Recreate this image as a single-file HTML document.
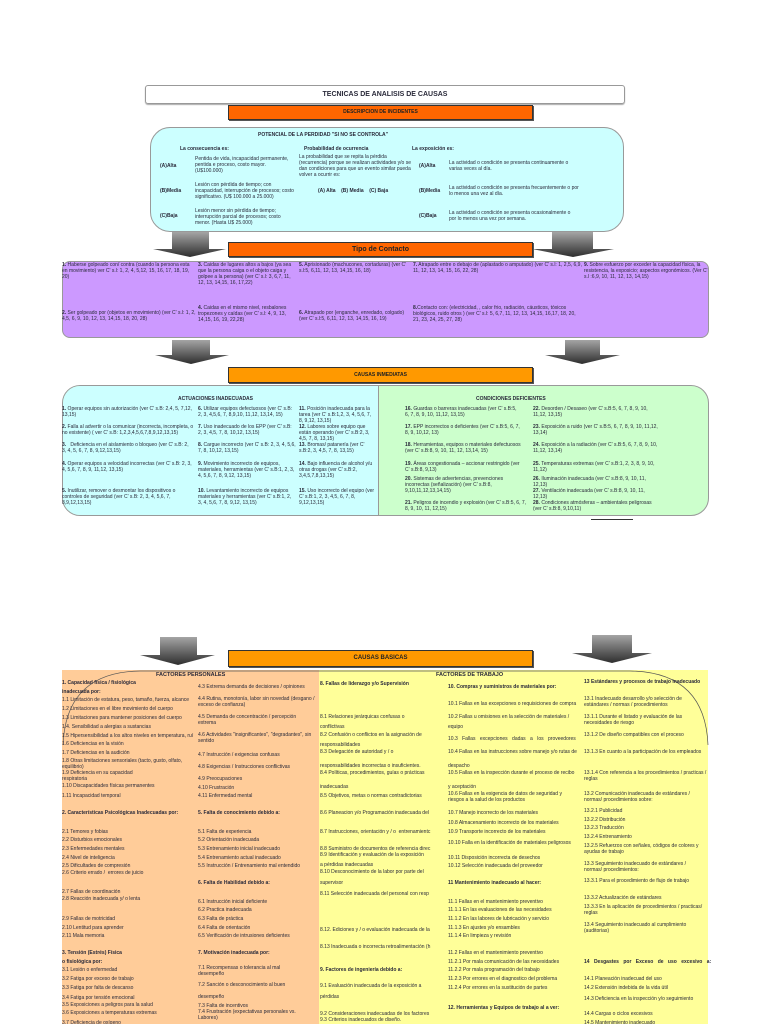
<!DOCTYPE html>
<html><head><meta charset="utf-8"><style>
body{margin:0;background:#fff;}
#p{position:relative;width:768px;height:1024px;overflow:hidden;font-family:"Liberation Sans",sans-serif;color:#2a2a3a;}
#p div{position:absolute;}
.t{font-size:5px;line-height:6px;white-space:nowrap;}
.w{font-size:5px;line-height:6px;}
.b{font-weight:bold;}
.bar{border:1px solid #333;box-shadow:1px 1px 0 #555;text-align:center;font-weight:bold;color:#222;}
.sh{background:linear-gradient(#a0a0a0,#303030);}
</style></head><body><div id="p">

<!-- title -->
<div style="left:145px;top:85px;width:478px;height:17px;border:1px solid #999;border-radius:3px;box-shadow:0 1px 1px #aaa;text-align:center;font-size:7px;line-height:17px;font-weight:bold;">TECNICAS DE ANALISIS DE CAUSAS</div>
<div class="bar" style="left:228px;top:105px;width:303px;height:13px;background:#ff6600;font-size:5px;line-height:13px;">DESCRIPCION DE INCIDENTES</div>

<!-- cyan -->
<div style="left:150px;top:127px;width:472px;height:103px;background:#ccffff;border:1px solid #999;border-radius:20px;"></div>
<div class="t b" style="left:258px;top:132px;">POTENCIAL DE LA PERDIDAD "SI NO SE CONTROLA"</div>
<div class="t b" style="left:180px;top:146px;">La consecuencia es:</div>
<div class="t b" style="left:304px;top:146px;">Probabilidad de ocurrencia</div>
<div class="t b" style="left:412px;top:146px;">La exposición es:</div>
<div class="t b" style="left:160px;top:163px;">(A)Alta</div>
<div class="t b" style="left:160px;top:188px;">(B)Media</div>
<div class="t b" style="left:160px;top:213px;">(C)Baja</div>
<div class="w" style="left:195px;top:156px;width:100px;">Pentida de vida, incapacidad permanente, pentida e proceso, costo mayor. (U$100.000)</div>
<div class="w" style="left:195px;top:182px;width:100px;">Lesión con pérdida de tiempo; con incapacidad, interrupción de procesos; costo significativo. (U$ 100.000 a 25.000)</div>
<div class="w" style="left:195px;top:208px;width:100px;">Lesión menor sin pérdida de tiempo; interrupción parcial de procesos; costo menor. (Hasta U$ 25.000)</div>
<div class="w" style="left:299px;top:154px;width:112px;">La probabilidad que se repita la pérdida (recurrencia) porque se realizan actividades y/o se dan condiciones para que un evento similar pueda volver a ocurrir es:</div>
<div class="t b" style="left:318px;top:188px;">(A) Alta &nbsp;&nbsp; (B) Media &nbsp;&nbsp; (C) Baja</div>
<div class="t b" style="left:419px;top:163px;">(A)Alta</div>
<div class="t b" style="left:419px;top:188px;">(B)Media</div>
<div class="t b" style="left:419px;top:213px;">(C)Baja</div>
<div class="w" style="left:449px;top:160px;width:130px;">La actividad o condición se presenta continuamente o varias veces al día.</div>
<div class="w" style="left:449px;top:185px;width:130px;">La actividad o condición se presenta frecuentemente o por lo menos una vez al día.</div>
<div class="w" style="left:449px;top:210px;width:130px;">La actividad o condición se presenta ocasionalmente o por lo menos una vez por semana.</div>

<!-- arrows 1 -->
<svg style="position:absolute;left:0;top:0" width="768" height="1024">
<defs><linearGradient id="g" x1="0" y1="0" x2="0" y2="1"><stop offset="0" stop-color="#a5a5a5"/><stop offset="1" stop-color="#2e2e2e"/></linearGradient></defs>
<path d="M172,232H209V249H226L190,257L153,249H172Z" fill="url(#g)"/>
<path d="M552,232H593V249H614L573,257L532,249H552Z" fill="url(#g)"/>
<path d="M172,340H210V355H229L191,364L155,355H172Z" fill="url(#g)"/>
<path d="M565,340H600V355H620L582,364L545,355H565Z" fill="url(#g)"/>
<path d="M160,637H197V655H215L178,665L140,655H160Z" fill="url(#g)"/>
<path d="M592,635H632V653H652L612,663L572,653H592Z" fill="url(#g)"/>
</svg>

<div class="bar" style="left:228px;top:242px;width:303px;height:13px;background:#ff6600;font-size:7px;line-height:13px;">Tipo de Contacto</div>

<!-- purple -->
<div style="left:62px;top:261px;width:645px;height:75px;background:#cc99ff;border:1px solid #999;border-radius:8px;"></div>
<div class="w" style="left:62px;top:262px;width:134px;"><b>1.</b> Haberse golpeado con/ contra (cuando la persona esta en movimiento) ver C' s.l: 1, 2, 4, 5,12, 15, 16, 17, 18, 19, 20)</div>
<div class="w" style="left:198px;top:262px;width:98px;"><b>3.</b> Caidas de lugares altos a bajos (ya sea que la persona caiga o el objeto caiga y golpee a la persona) (ver C' s.l: 3, 6,7, 11, 12, 13, 14,15, 16, 17,22)</div>
<div class="w" style="left:299px;top:262px;width:112px;"><b>5.</b> Aprisionado (machucones, cortaduras) (ver C' s.l:5, 6,11, 12, 13, 14,15, 16, 18)</div>
<div class="w" style="left:413px;top:262px;width:170px;"><b>7.</b> Atrapado entre o debajo de (aplastado o amputado) (ver C' s.l: 1, 2,5, 6,9, 11, 12, 13, 14, 15, 16, 22, 28)</div>
<div class="w" style="left:584px;top:262px;width:124px;"><b>9.</b> Sobre esfuerzo por exceder la capacidad física, la resistencia, la exposicio; aspectos ergonómicos. (Ver C' s.l :6,9, 10, 11, 12, 13, 14,15)</div>
<div class="w" style="left:62px;top:310px;width:134px;"><b>2.</b> Ser golpeado por (objetos en movimiento) (ver C' s.l: 1, 2, 4,5, 6, 9, 10, 12, 13, 14,15, 18, 20, 28)</div>
<div class="w" style="left:198px;top:305px;width:98px;"><b>4.</b> Caidas en el mismo nivel, resbalones tropezones y caídas (ver C' s.l: 4, 9, 13, 14,15, 16, 19, 22,28)</div>
<div class="w" style="left:299px;top:310px;width:112px;"><b>6.</b> Atrapado por (enganche, enredado, colgado) (ver C' s.l:5, 6,11, 12, 13, 14,15, 16, 19)</div>
<div class="w" style="left:413px;top:305px;width:170px;"><b>8.</b>Contacto con: (electricidad, , calor frio, radiación, cáusticos, tóxicos biológicos, ruido otros ) (ver C' s.l: 5, 6,7, 11, 12, 13, 14,15, 16,17, 18, 20, 21, 23, 24, 25, 27, 28)</div>

<div class="bar" style="left:228px;top:367px;width:303px;height:14px;background:#ff9900;font-size:5px;line-height:14px;">CAUSAS INMEDIATAS</div>

<!-- inmediatas -->
<div style="left:62px;top:385px;width:645px;height:129px;border:1px solid #999;border-radius:18px;overflow:hidden;background:#ccffcc;"><div style="left:0;top:0;width:315px;height:129px;background:#ccffff;border-right:1px solid #999;"></div></div>
<div class="t b" style="left:178px;top:396px;">ACTUACIONES INADECUADAS</div>
<div class="t b" style="left:476px;top:396px;">CONDICIONES DEFICIENTES</div>
<div class="w" style="left:62px;top:406px;width:132px;"><b>1.</b> Operar equipos sin autorización (ver C' s.B: 2,4, 5, 7,12, 13,15)</div>
<div class="w" style="left:62px;top:424px;width:134px;"><b>2.</b> Falla al advertir o la comunicar (incorrecta, incompleta, o no existente) ( ver C' s.B: 1,2,3,4,5,6,7,8,9,12,13,15)</div>
<div class="w" style="left:62px;top:442px;width:132px;"><b>3.</b> &nbsp; Deficiencia en el aislamiento o bloqueo (ver C' s.B: 2, 3, 4, 5, 6, 7, 8, 9,12,13,15)</div>
<div class="w" style="left:62px;top:461px;width:132px;"><b>4.</b> Operar equipos a velocidad incorrectas (ver C' s.B: 2, 3, 4, 5,6, 7, 8, 9, 11,12, 13,15)</div>
<div class="w" style="left:62px;top:488px;width:132px;"><b>5.</b> Inutilizar, remover o desmontar los dispositivos o controles de seguridad (ver C' s.B: 2, 3, 4, 5,6, 7, 8,9,12,13,15)</div>
<div class="w" style="left:198px;top:406px;width:98px;"><b>6.</b> Utilizar equipos defectuosos (ver C' s.B: 2, 3, 4,5,6, 7, 8,9,10, 11,12, 13,14, 15)</div>
<div class="w" style="left:198px;top:424px;width:98px;"><b>7.</b> Uso inadecuado de los EPP (ver C' s.B: 2, 3, 4,5, 7, 8, 10,12, 13,15)</div>
<div class="w" style="left:198px;top:442px;width:98px;"><b>8.</b> Cargue incorrecto (ver C' s.B: 2, 3, 4, 5,6, 7, 8, 10,12, 13,15)</div>
<div class="w" style="left:198px;top:461px;width:98px;"><b>9.</b> Movimiento incorrecto de equipos, materiales, herramientas (ver C' s.B:1, 2, 3, 4, 5,6, 7, 8, 9,12, 13,15)</div>
<div class="w" style="left:198px;top:488px;width:98px;"><b>10.</b> Levantamiento incorrecto de equipos materiales y herramientas (ver C' s.B:1, 2, 3, 4, 5,6, 7, 8, 9,12, 13,15)</div>
<div class="w" style="left:299px;top:406px;width:76px;"><b>11.</b> Posición inadecuada para la tarea (ver C' s.B:1,2, 3, 4, 5,6, 7, 8, 9,12, 13,15)</div>
<div class="w" style="left:299px;top:424px;width:76px;"><b>12.</b> Labores sobre equipo que están operando (ver C' s.B:2, 3, 4,5, 7, 8, 13,15)</div>
<div class="w" style="left:299px;top:442px;width:76px;"><b>13.</b> Bromas/ patanería (ver C' s.B:2, 3, 4,5, 7, 8, 13,15)</div>
<div class="w" style="left:299px;top:461px;width:76px;"><b>14.</b> Bajo influencia de alcohol y/u otras drogas (ver C' s.B:2, 3,4,5,7,8,13,15)</div>
<div class="w" style="left:299px;top:488px;width:76px;"><b>15.</b> Uso incorrecto del equipo (ver C' s.B:1, 2, 3, 4,5, 6, 7, 8, 9,12,13,15)</div>
<div class="w" style="left:405px;top:406px;width:116px;"><b>16.</b> Guardas o barreras inadecuadas (ver C' s.B:5, 6, 7, 8, 9, 10, 11,12, 13,15)</div>
<div class="w" style="left:405px;top:424px;width:116px;"><b>17.</b> EPP incorrectos o deficientes (ver C' s.B:5, 6, 7, 8, 9, 10,12, 13)</div>
<div class="w" style="left:405px;top:442px;width:122px;"><b>18.</b> Herramientas, equipos o materiales defectuosos (ver C' s.B:8, 9, 10, 11, 12, 13,14, 15)</div>
<div class="w" style="left:405px;top:461px;width:116px;"><b>19.</b> Áreas congestionada – accionar restringido (ver C' s.B:8, 9,13)</div>
<div class="w" style="left:405px;top:476px;width:116px;"><b>20.</b> Sistemas de advertencias, prevenciones incorrectas (señalización) (ver C' s.B:8, 9,10,11,12,13,14,15)</div>
<div class="w" style="left:405px;top:500px;width:124px;"><b>21.</b> Peligros de incendio y explosión (ver C' s.B:5, 6, 7, 8, 9, 10, 11, 12,15)</div>
<div class="w" style="left:533px;top:406px;width:125px;"><b>22.</b> Desorden / Desaseo (ver C' s.B:5, 6, 7, 8, 9, 10, 11,12, 13,15)</div>
<div class="w" style="left:533px;top:424px;width:130px;"><b>23.</b> Exposición a ruido (ver C' s.B:5, 6, 7, 8, 9, 10, 11,12, 13,14)</div>
<div class="w" style="left:533px;top:442px;width:125px;"><b>24.</b> Exposición a la radiación (ver C' s.B:5, 6, 7, 8, 9, 10, 11,12, 13,14)</div>
<div class="w" style="left:533px;top:461px;width:125px;"><b>25.</b> Temperaturas extremas (ver C' s.B:1, 2, 3, 8, 9, 10, 11,12)</div>
<div class="w" style="left:533px;top:476px;width:125px;"><b>26.</b> Iluminación inadecuada (ver C' s.B:8, 9, 10, 11, 12,13)</div>
<div class="w" style="left:533px;top:488px;width:125px;"><b>27.</b> Ventilación inadecuada (ver C' s.B:8, 9, 10, 11, 12,13)</div>
<div class="w" style="left:533px;top:500px;width:128px;"><b>28.</b> Condiciones atmósferas – ambientales peligrosas (ver C' s.B:8, 9,10,11)</div>
<div style="left:591px;top:519px;width:42px;height:1px;background:#333;"></div>

<div class="bar" style="left:228px;top:650px;width:303px;height:15px;background:#ff9900;font-size:6px;line-height:15px;">CAUSAS BASICAS</div>

<!-- basicas -->
<div style="left:62px;top:670px;width:257px;height:354px;background:#ffcc99;"></div>
<div style="left:319px;top:670px;width:389px;height:354px;background:#ffff99;"></div>
<svg style="position:absolute;left:0;top:0" width="768" height="1024"><path d="M63,745 Q66,672 140,671 L630,671 Q705,672 708,745" fill="none" stroke="#555" stroke-width="0.7"/></svg>
<div class="t b" style="left:156px;top:672px;font-size:5.5px;">FACTORES PERSONALES</div>
<div class="t b" style="left:436px;top:672px;font-size:5.5px;">FACTORES DE TRABAJO</div>

<div class="t b" style="left:62px;top:680px;">1. Capacidad física / fisiológica</div>
<div class="t b" style="left:62px;top:689px;">inadecuada por:</div>
<div class="t" style="left:62px;top:697px;">1.1 Limitación de estatura, peso, tamaño, fuerza, alcance</div>
<div class="t" style="left:62px;top:706px;">1.2 Limitaciones en el libre movimiento del cuerpo</div>
<div class="t" style="left:62px;top:715px;">1.3 Limitaciones para mantener posiciones del cuerpo</div>
<div class="t" style="left:62px;top:724px;">1.4. Sensibilidad a alergias a sustancias</div>
<div class="t" style="left:62px;top:733px;">1.5 Hipersensibilidad a los altos niveles en temperatura, ruí</div>
<div class="t" style="left:62px;top:741px;">1.6 Deficiencias en la visión</div>
<div class="t" style="left:62px;top:750px;">1.7 Deficiencias en la audición</div>
<div class="w" style="left:62px;top:758px;width:128px;">1.8 Otras limitaciones sensoriales (tacto, gusto, olfato, equilibrio)</div>
<div class="w" style="left:62px;top:770px;width:90px;">1.9 Deficiencia en su capacidad respiratoria</div>
<div class="t" style="left:62px;top:783px;">1.10 Discapacidades físicas permanentes</div>
<div class="t" style="left:62px;top:793px;">1.11 Incapacidad temporal</div>
<div class="t b" style="left:62px;top:810px;">2. Características Psicológicas Inadecuadas por:</div>
<div class="t" style="left:62px;top:829px;">2.1 Temores y fobias</div>
<div class="t" style="left:62px;top:837px;">2.2 Disturbios emocionales</div>
<div class="t" style="left:62px;top:846px;">2.3 Enfermedades mentales</div>
<div class="t" style="left:62px;top:855px;">2.4 Nivel de inteligencia</div>
<div class="t" style="left:62px;top:863px;">2.5 Dificultades de compresión</div>
<div class="t" style="left:62px;top:870px;">2.6 Criterio errado / &nbsp;errores de juicio</div>
<div class="t" style="left:62px;top:889px;">2.7 Fallas de coordinación</div>
<div class="t" style="left:62px;top:896px;">2.8 Reacción inadecuada y/ o lenta</div>
<div class="t" style="left:62px;top:916px;">2.9 Fallas de motricidad</div>
<div class="t" style="left:62px;top:925px;">2.10 Lentitud para aprender</div>
<div class="t" style="left:62px;top:933px;">2.11 Mala memoria</div>
<div class="t b" style="left:62px;top:950px;">3. Tensión (Estrés) Física</div>
<div class="t b" style="left:62px;top:959px;">o fisiológica por:</div>
<div class="t" style="left:62px;top:967px;">3.1 Lesión o enfermedad</div>
<div class="t" style="left:62px;top:976px;">3.2 Fatiga por exceso de trabajo</div>
<div class="t" style="left:62px;top:985px;">3.3 Fatiga por falta de descanso</div>
<div class="t" style="left:62px;top:995px;">3.4 Fatiga por tensión emocional</div>
<div class="t" style="left:62px;top:1002px;">3.5 Exposiciones a peligros para la salud</div>
<div class="t" style="left:62px;top:1010px;">3.6 Exposiciones a temperaturas extremas</div>
<div class="t" style="left:62px;top:1020px;">3.7 Deficiencia de oxígeno</div>

<div class="t" style="left:198px;top:684px;">4.3 Extrema demanda de decisiones / opiniones</div>
<div class="w" style="left:198px;top:696px;width:120px;">4.4 Rutina, monotonía, labor sin novedad (desgano / exceso de confianza)</div>
<div class="w" style="left:198px;top:714px;width:104px;">4.5 Demanda de concentración / percepción extrema</div>
<div class="w" style="left:198px;top:732px;width:120px;">4.6 Actividades "insignificantes", "degradantes", sin sentido</div>
<div class="t" style="left:198px;top:752px;">4.7 Instrucción / exigencias confusas</div>
<div class="t" style="left:198px;top:764px;">4.8 Exigencias / Instrucciones conflictivas</div>
<div class="t" style="left:198px;top:776px;">4.9 Preocupaciones</div>
<div class="t" style="left:198px;top:785px;">4.10 Frustración</div>
<div class="t" style="left:198px;top:793px;">4.11 Enfermedad mental</div>
<div class="t b" style="left:198px;top:810px;">5. Falta de conocimiento debido a:</div>
<div class="t" style="left:198px;top:829px;">5.1 Falta de experiencia</div>
<div class="t" style="left:198px;top:837px;">5.2 Orientación inadecuada</div>
<div class="t" style="left:198px;top:846px;">5.3 Entrenamiento inicial inadecuado</div>
<div class="t" style="left:198px;top:855px;">5.4 Entrenamiento actual inadecuado</div>
<div class="t" style="left:198px;top:863px;">5.5 Instrucción / Entrenamiento mal entendido</div>
<div class="t b" style="left:198px;top:880px;">6. Falta de Habilidad debido a:</div>
<div class="t" style="left:198px;top:899px;">6.1 Instrucción inicial deficiente</div>
<div class="t" style="left:198px;top:907px;">6.2 Practica inadecuada</div>
<div class="t" style="left:198px;top:916px;">6.3 Falta de práctica</div>
<div class="t" style="left:198px;top:925px;">6.4 Falta de orientación</div>
<div class="t" style="left:198px;top:933px;">6.5 Verificación de intrusiones deficientes</div>
<div class="t b" style="left:198px;top:950px;">7. Motivación inadecuada por:</div>
<div class="w" style="left:198px;top:965px;width:90px;">7.1 Recompensas o tolerancia al mal desempeño</div>
<div class="t" style="left:198px;top:982px;">7.2 Sanción o desconocimiento al buen</div>
<div class="t" style="left:198px;top:994px;">desempeño</div>
<div class="t" style="left:198px;top:1003px;">7.3 Falta de incentivos</div>
<div class="w" style="left:198px;top:1009px;width:110px;">7.4 Frustración (expectativas personales vs. Labores)</div>

<div class="t b" style="left:320px;top:681px;">8. Fallas de liderazgo y/o Supervisión</div>
<div class="t" style="left:320px;top:714px;">8.1 Relaciones jerárquicas confusas o</div>
<div class="t" style="left:320px;top:724px;">conflictivas</div>
<div class="t" style="left:320px;top:732px;">8.2 Confusión o conflictos en la asignación de</div>
<div class="t" style="left:320px;top:742px;">responsabilidades</div>
<div class="t" style="left:320px;top:749px;">8.3 Delegación de autoridad y / o</div>
<div class="t" style="left:320px;top:763px;">responsabilidades incorrectas o insuficientes.</div>
<div class="t" style="left:320px;top:770px;">8.4 Políticas, procedimientos, guías o prácticas</div>
<div class="t" style="left:320px;top:784px;">inadecuadas</div>
<div class="t" style="left:320px;top:793px;">8.5 Objetivos, metas o normas contradictorias</div>
<div class="t" style="left:320px;top:810px;">8.6 Planeacion y/o Programación inadecuada del</div>
<div class="t" style="left:320px;top:829px;">8.7 Instrucciones, orientación y / o &nbsp;entrenamientc</div>
<div class="t" style="left:320px;top:846px;">8.8 Suministro de documentos de referencia direc</div>
<div class="t" style="left:320px;top:852px;">8.9 Identificación y evaluación de la exposición</div>
<div class="t" style="left:320px;top:862px;">a pérdidas inadecuadas</div>
<div class="t" style="left:320px;top:869px;">8.10 Desconocimiento de la labor por parte del</div>
<div class="t" style="left:320px;top:880px;">supervisor</div>
<div class="t" style="left:320px;top:891px;">8.11 Selección inadecuada del personal con resp</div>
<div class="t" style="left:320px;top:927px;">8.12. Ediciones y / o evaluación inadecuada de la</div>
<div class="t" style="left:320px;top:944px;">8.13 Inadecuada o incorrecta retroalimentación (h</div>
<div class="t b" style="left:320px;top:967px;">9. Factores de ingeniería debido a:</div>
<div class="t" style="left:320px;top:983px;">9.1 Evaluación inadecuada de la exposición a</div>
<div class="t" style="left:320px;top:994px;">pérdidas</div>
<div class="t" style="left:320px;top:1011px;">9.2 Consideraciones inadecuadas de los factores</div>
<div class="t" style="left:320px;top:1017px;">9.3 Criterios inadecuados de diseño.</div>

<div class="t b" style="left:448px;top:684px;">10. Compras y suministros de materiales por:</div>
<div class="t" style="left:448px;top:701px;">10.1 Fallas en las excepciones o requisiciones de compra</div>
<div class="t" style="left:448px;top:714px;">10.2 Fallas u omisiones en la selección de materiales /</div>
<div class="t" style="left:448px;top:724px;">equipo</div>
<div class="t" style="left:448px;top:736px;word-spacing:3px;">10.3 Fallas excepciones dadas a los proveedores</div>
<div class="t" style="left:448px;top:749px;">10.4 Fallas en las instrucciones sobre manejo y/o rutas de</div>
<div class="t" style="left:448px;top:763px;">despacho</div>
<div class="t" style="left:448px;top:770px;">10.5 Fallas en la inspección durante el proceso de recibo</div>
<div class="t" style="left:448px;top:784px;">y aceptación</div>
<div class="w" style="left:448px;top:791px;width:128px;">10.6 Fallas en la exigencia de datos de seguridad y riesgos a la salud de los productos</div>
<div class="t" style="left:448px;top:810px;">10.7 Manejo incorrecto de los materiales</div>
<div class="t" style="left:448px;top:820px;">10.8 Almacenamiento incorrecto de los materiales</div>
<div class="t" style="left:448px;top:829px;">10.9 Transporte incorrecto de los materiales</div>
<div class="t" style="left:448px;top:840px;">10.10 Falla en la identificación de materiales peligrosos</div>
<div class="t" style="left:448px;top:855px;">10.11 Disposición incorrecta de desechos</div>
<div class="t" style="left:448px;top:863px;">10.12 Selección inadecuada del proveedor</div>
<div class="t b" style="left:448px;top:880px;">11 Mantenimiento inadecuado al hacer:</div>
<div class="t" style="left:448px;top:899px;">11.1 Fallas en el mantenimiento preventivo</div>
<div class="t" style="left:448px;top:907px;">11.1.1 En las evaluaciones de las necesidades</div>
<div class="t" style="left:448px;top:916px;">11.1.2 En las labores de lubricación y servicio</div>
<div class="t" style="left:448px;top:925px;">11.1.3 En ajustes y/o ensambles</div>
<div class="t" style="left:448px;top:933px;">11.1.4 En limpieza y revisión</div>
<div class="t" style="left:448px;top:950px;">11.2 Fallas en el mantenimiento preventivo</div>
<div class="t" style="left:448px;top:959px;">11.2.1 Por mala comunicación de las necesidades</div>
<div class="t" style="left:448px;top:967px;">11.2.2 Por mala programación del trabajo</div>
<div class="t" style="left:448px;top:976px;">11.2.3 Por errores en el diagnostico del problema</div>
<div class="t" style="left:448px;top:985px;">11.2.4 Por errores en la sustitución de partes</div>
<div class="t b" style="left:448px;top:1005px;">12. Herramientas y Equipos de trabajo al a ver:</div>

<div class="t b" style="left:584px;top:679px;">13 Estándares y procesos de trabajo inadecuado</div>
<div class="w" style="left:584px;top:696px;width:110px;">13.1 Inadecuado desarrollo y/o selección de estándares / normas / procedimientos</div>
<div class="w" style="left:584px;top:714px;width:110px;">13.1.1 Durante el listado y evaluación de las necesidades de riesgo</div>
<div class="t" style="left:584px;top:732px;">13.1.2 De diseño compatibles con el proceso</div>
<div class="t" style="left:584px;top:749px;">13.1.3 En cuanto a la participación de los empleados</div>
<div class="w" style="left:584px;top:770px;width:124px;">13.1.4 Con referencia a los procedimientos / practicas / reglas</div>
<div class="w" style="left:584px;top:791px;width:120px;">13.2 Comunicación inadecuada de estándares / normas/ procedimientos sobre:</div>
<div class="t" style="left:584px;top:808px;">13.2.1 Publicidad</div>
<div class="t" style="left:584px;top:817px;">13.2.2 Distribución</div>
<div class="t" style="left:584px;top:825px;">13.2.3 Traducción</div>
<div class="t" style="left:584px;top:834px;">13.2.4 Entrenamiento</div>
<div class="w" style="left:584px;top:843px;width:122px;">13.2.5 Refuerzos con señales, códigos de colores y ayudas de trabajo</div>
<div class="w" style="left:584px;top:861px;width:110px;">13.3 Seguimiento inadecuado de estándares / normas/ procedimientos:</div>
<div class="t" style="left:584px;top:878px;">13.3.1 Para el procedimiento de flujo de trabajo</div>
<div class="t" style="left:584px;top:895px;">13.3.2 Actualización de estándares</div>
<div class="w" style="left:584px;top:904px;width:124px;">13.3.3 En la aplicación de procedimientos / practicas/ reglas</div>
<div class="w" style="left:584px;top:922px;width:110px;">13.4 Seguimiento inadecuado al cumplimiento (auditorias)</div>
<div class="t b" style="left:584px;top:959px;word-spacing:3px;">14 Desgastes por Exceso de uso excesivo a:</div>
<div class="t" style="left:584px;top:976px;">14.1 Planeación inadecuad del uso</div>
<div class="t" style="left:584px;top:985px;">14.2 Extensión indebida de la vida útil</div>
<div class="t" style="left:584px;top:996px;">14.3 Deficiencia en la inspección y/o seguimiento</div>
<div class="t" style="left:584px;top:1011px;">14.4 Cargas o ciclos excesivos</div>
<div class="t" style="left:584px;top:1020px;">14.5 Mantenimiento inadecuado</div>

</div></body></html>
